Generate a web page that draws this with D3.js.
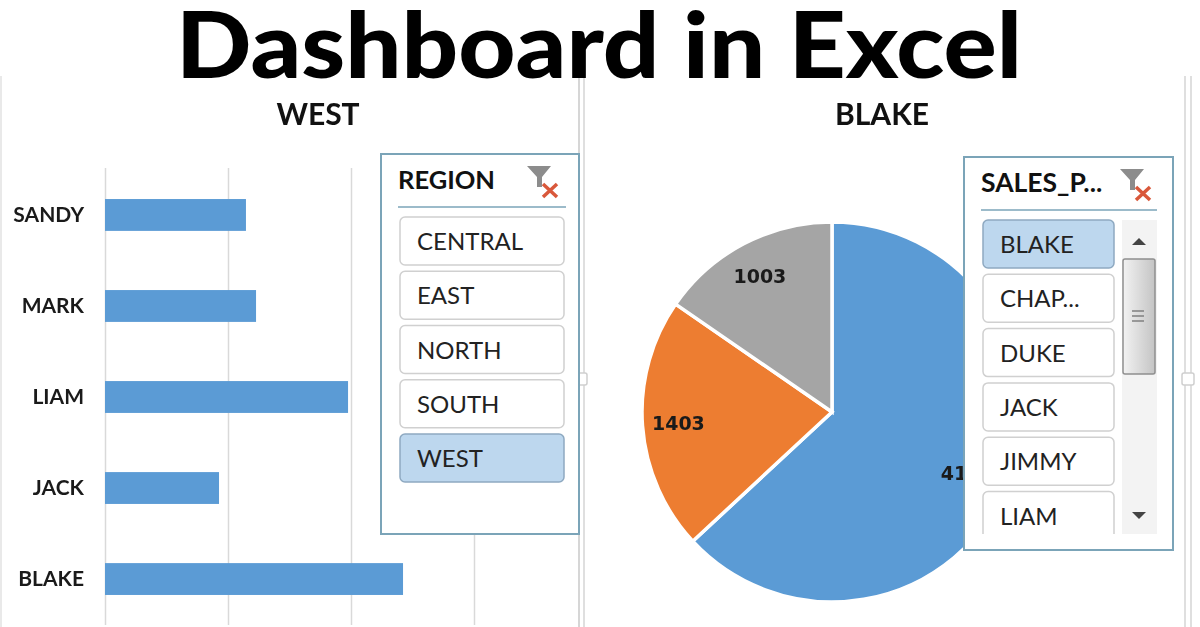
<!DOCTYPE html>
<html>
<head>
<meta charset="utf-8">
<script src="https://cdnjs.cloudflare.com/ajax/libs/d3/7.8.5/d3.min.js"></script>
<style>
html, body { margin: 0; padding: 0; background: #fff; overflow: hidden; }
svg { display: block; font-family: Lato, "Open Sans", sans-serif; filter: blur(0.4px); }
.axis-y text { font-family: Lato, sans-serif; font-size: 21px; font-weight: 700; fill: #1a1a1a; }
.grid line { stroke: #d9d9d9; stroke-width: 1.5; }
</style>
</head>
<body>
<svg id="chart" width="1200" height="627"></svg>
<script>
// region chart, axis has no printed labels so the units are only relative
var salesPeople = ['SANDY', 'MARK', 'LIAM', 'JACK', 'BLAKE']
var salesValues = [1146, 1228, 1976, 927, 2423]
var axisTicks = [0, 1000, 2000, 3000]

var pieValues = [4113, 1403, 1003]
var pieColors = ['#5b9bd5', '#ed7d31', '#a5a5a5']

var regionItems = ['CENTRAL', 'EAST', 'NORTH', 'SOUTH', 'WEST']
var personItems = ['BLAKE', 'CHAP...', 'DUKE', 'JACK', 'JIMMY', 'LIAM']

var svg = d3.select('#chart')

// panel edges, each panel has a resize handle on its right side
function panelEdge(px, color){
    svg.append('line').attr('x1', px).attr('x2', px).attr('y1', 76).attr('y2', 627)
	.attr('stroke', color).attr('stroke-width', 1.5)
}
function panelHandle(px){
    svg.append('rect').attr('x', px - 6).attr('y', 373).attr('width', 12).attr('height', 12)
	.attr('rx', 2).attr('fill', '#fff').attr('stroke', '#cfcfcf').attr('stroke-width', 1.5)
}
panelEdge(1, '#e2e2e2')
panelEdge(579, '#c8c8c8')
panelEdge(584, '#d4d4d4')
panelEdge(1185, '#d4d4d4')
panelEdge(1191, '#d4d4d4')
panelHandle(581)
panelHandle(1188)

// main title
svg.append('text').attr('x', 599).attr('y', 78).attr('text-anchor', 'middle')
    .attr('font-size', 92).attr('font-weight', 900).attr('fill', '#000')
    .attr('textLength', 846).attr('lengthAdjust', 'spacingAndGlyphs')
    .text('Dashboard in Excel')

function chartTitle(x, s){
    svg.append('text').attr('x', x).attr('y', 125).attr('text-anchor', 'middle')
	.attr('font-size', 30).attr('font-weight', 700).attr('fill', '#111')
	.text(s)
}
chartTitle(318, 'WEST')
chartTitle(882, 'BLAKE')

// bar chart
var x = d3.scaleLinear().domain([0, 3000]).range([105, 474])
var y = d3.scaleBand().domain(salesPeople).range([169, 625]).paddingInner(0.65).paddingOuter(0.33)

svg.append('g').attr('class', 'grid')
    .attr('transform', 'translate(0,625)')
    .call(d3.axisBottom(x).tickValues(axisTicks).tickSize(-457).tickFormat(''))
    .call(function(g){ g.select('.domain').remove() })

svg.append('g').selectAll('rect').data(salesPeople).enter().append('rect')
    .attr('x', x(0))
    .attr('y', function(d){ return y(d) })
    .attr('width', function(d, i){ return x(salesValues[i]) - x(0) })
    .attr('height', y.bandwidth())
    .attr('fill', '#5b9bd5')

svg.append('g').attr('class', 'axis-y')
    .attr('transform', 'translate(105,0)')
    .call(d3.axisLeft(y).tickSize(0).tickPadding(21))
    .call(function(g){ g.select('.domain').remove() })

// pie chart
var pieCx = 832, pieCy = 412, pieR = 190
var pie = d3.pie().sort(null).value(function(d){ return d })
var arcs = pie(pieValues)
var arc = d3.arc().innerRadius(0).outerRadius(pieR)
var labelArc = d3.arc().innerRadius(153).outerRadius(153)
var pieG = svg.append('g').attr('transform', 'translate(' + pieCx + ',' + pieCy + ')')

pieG.selectAll('path').data(arcs).enter().append('path')
    .attr('d', arc)
    .attr('fill', function(d, i){ return pieColors[i] })
    .attr('stroke', '#fff').attr('stroke-width', 3.5)

pieG.selectAll('text').data(arcs).enter().append('text')
    .attr('transform', function(d){ return 'translate(' + labelArc.centroid(d) + ')' })
    .attr('text-anchor', 'middle').attr('dy', '0.36em')
    .attr('dx', function(d, i){ return i == 0 ? -5 : -1 })
    .attr('font-family', '"DejaVu Sans"').attr('font-size', 19).attr('font-weight', 700)
    .attr('fill', '#1a1a1a')
    .text(function(d){ return d.value })

// funnel with the red cross, top left corner at (fx,fy)
function clearIcon(fx, fy){
    var g = svg.append('g').attr('transform', 'translate(' + fx + ',' + fy + ')')
    g.append('path').attr('d', 'M0,0 H24 L15,11 V21 L10,21 V11 Z').attr('fill', '#8c8c8c')
    g.append('path').attr('d', 'M16,18 L30,31 M30,18 L16,31').attr('stroke', '#d9583b').attr('stroke-width', 3.5)
}

function slicer(o){
    var clipId = 'clip' + o.x
    svg.append('rect').attr('x', o.x).attr('y', o.y).attr('width', o.w).attr('height', o.h)
	.attr('fill', '#fff').attr('stroke', '#7ba4b8').attr('stroke-width', 2)
    svg.append('text').attr('x', o.x + 17).attr('y', o.y + 35)
	.attr('font-size', o.titleSize).attr('font-weight', 700).attr('fill', '#111').text(o.title)
    clearIcon(o.iconX, o.y + 12)
    svg.append('line').attr('x1', o.x + 17).attr('x2', o.ruleEnd)
	.attr('y1', o.y + 53).attr('y2', o.y + 53)
	.attr('stroke', '#7ba4b8').attr('stroke-width', 1.5)

    svg.append('clipPath').attr('id', clipId).append('rect')
	.attr('x', o.x).attr('y', o.y).attr('width', o.w).attr('height', o.clipH)

    var rows = svg.append('g').attr('clip-path', 'url(#' + clipId + ')')
	.selectAll('g').data(o.items).enter().append('g')
	.attr('transform', function(d, i){ return 'translate(' + (o.x + 19) + ',' + (o.top + i * o.step) + ')' })

    rows.append('rect').attr('width', o.itemW).attr('height', 48).attr('rx', 5)
	.attr('fill', function(d){ return d == o.selected ? '#bdd7ee' : '#fff' })
	.attr('stroke', function(d){ return d == o.selected ? '#8ea9c1' : '#d0d0d0' })
	.attr('stroke-width', 1.5)

    rows.append('text').attr('x', 17).attr('y', 33)
	.attr('font-size', 24).attr('fill', '#222').text(function(d){ return d })
}

slicer({x: 381, y: 154, w: 198, h: 380, clipH: 380, iconX: 527, ruleEnd: 566, title: 'REGION', titleSize: 25.5,
	top: 217, step: 54.25, itemW: 164, items: regionItems, selected: 'WEST'})
slicer({x: 964, y: 157, w: 209, h: 393, clipH: 377, iconX: 1120, ruleEnd: 1157, title: 'SALES_P...', titleSize: 26.5,
	top: 220, step: 54.3, itemW: 131, items: personItems, selected: 'BLAKE'})

// scrollbar of the second slicer
svg.append('rect').attr('x', 1122).attr('y', 220).attr('width', 35).attr('height', 314).attr('fill', '#f3f3f3')
var thumbGrad = svg.append('linearGradient').attr('id', 'thumb')
thumbGrad.append('stop').attr('offset', '0%').attr('stop-color', '#f2f2f2')
thumbGrad.append('stop').attr('offset', '100%').attr('stop-color', '#c4c4c4')
svg.append('rect').attr('x', 1123).attr('y', 259).attr('width', 32).attr('height', 115).attr('rx', 2)
    .attr('fill', 'url(#thumb)').attr('stroke', '#8f8f8f').attr('stroke-width', 1.5)
svg.append('path').attr('d', 'M1132,245 L1139,238 L1146,245 Z').attr('fill', '#444')
svg.append('path').attr('d', 'M1132,512 L1146,512 L1139,519 Z').attr('fill', '#444')
svg.append('path').attr('d', 'M1132,311 H1144 M1132,316 H1144 M1132,321 H1144').attr('stroke', '#808080').attr('stroke-width', 1.5)
</script>
</body>
</html>
